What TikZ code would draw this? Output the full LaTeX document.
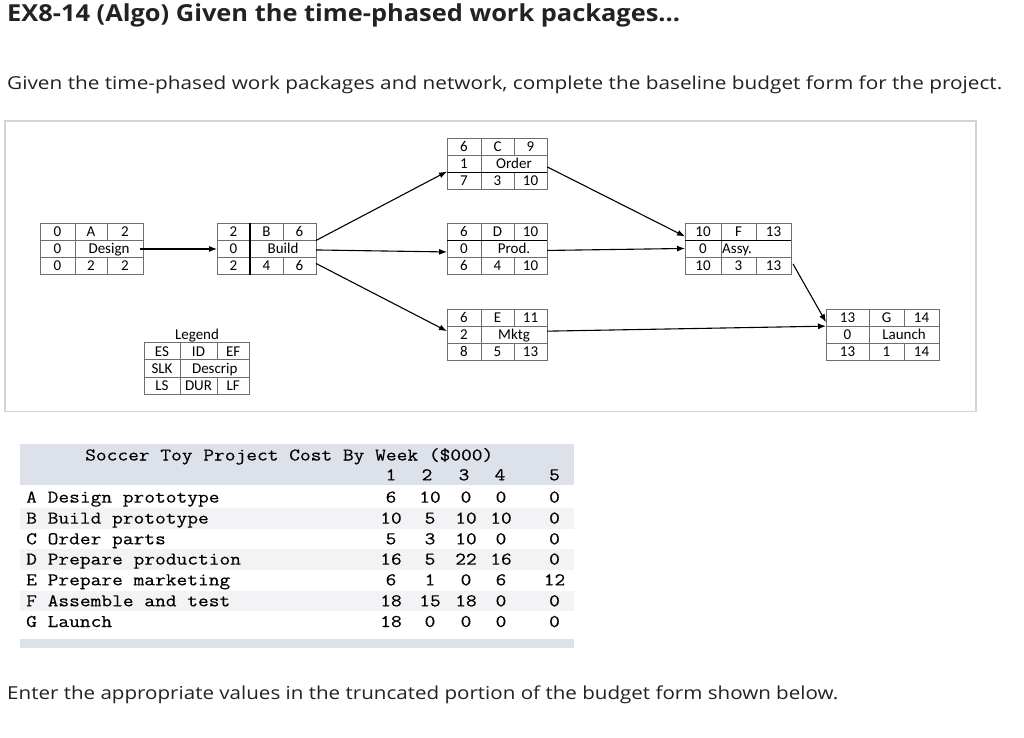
\documentclass[tikz,border=0pt]{standalone}
\usepackage{fontspec}
\usepackage{graphicx}
\setmainfont{Open Sans}
\newfontfamily\netfont{Carlito}
\newfontfamily\tabfont[FakeStretch=1.165,FakeBold=0.3]{Latin Modern Mono}
\usetikzlibrary{arrows.meta}

\definecolor{gridgray}{RGB}{110,110,110}
\definecolor{panelgray}{RGB}{212,212,212}
\definecolor{headband}{RGB}{221,225,234}
\definecolor{stripe}{RGB}{243,243,245}
\definecolor{inktext}{RGB}{34,34,34}

\tikzset{
  gridbox/.style={draw=gridgray, line width=0.9pt, inner sep=0pt, outer sep=0pt},
  gridline/.style={draw=gridgray, line width=0.9pt},
  heavyline/.style={draw=black, line width=1.5pt},
  celltext/.style={font=\netfont\fontsize{15}{15}\selectfont, inner sep=0pt, anchor=base, text=black},
  arr/.style={draw=black, line width=1.1pt, -{Latex[length=8pt,width=6pt]}},
  tabtext/.style={font=\tabfont\fontsize{17.9}{18}\selectfont, inner sep=0pt, text=black},
  titletext/.style={font=\bfseries\fontsize{23.4}{24}\selectfont, inner sep=0pt, text=inktext},
  bodytext/.style={font=\fontsize{17.9}{18}\selectfont, inner sep=0pt, text=inktext},
  panel/.style={draw=panelgray, line width=1.3pt},
}

% #1 name, #2 x0, #3 x1, #4 x2, #5 x3, #6 y0, #7 row height
\newcommand\actgrid[7]{%
  \node[gridbox, anchor=north west, minimum width={(#5-#2)*1pt}, minimum height={3*#7*1pt}] (#1) at (#2,#6) {};
  \draw[gridline] (#2,{#6+#7}) -- (#5,{#6+#7})
                  (#2,{#6+2*#7}) -- (#5,{#6+2*#7})
                  (#3,#6) -- (#3,{#6+3*#7})
                  (#4,#6) -- (#4,{#6+#7})
                  (#4,{#6+2*#7}) -- (#4,{#6+3*#7});
  \coordinate (#1-11) at ({(#2+#3)/2},{#6+0.5*#7+4.9});
  \coordinate (#1-12) at ({(#3+#4)/2},{#6+0.5*#7+4.9});
  \coordinate (#1-13) at ({(#4+#5)/2},{#6+0.5*#7+4.9});
  \coordinate (#1-21) at ({(#2+#3)/2},{#6+1.5*#7+4.9});
  \coordinate (#1-22) at ({(#3+#5)/2},{#6+1.5*#7+4.9});
  \coordinate (#1-31) at ({(#2+#3)/2},{#6+2.5*#7+4.9});
  \coordinate (#1-32) at ({(#3+#4)/2},{#6+2.5*#7+4.9});
  \coordinate (#1-33) at ({(#4+#5)/2},{#6+2.5*#7+4.9});
}
\newcommand\acttext[9]{%
  \node[celltext] (#1-es) at (#1-11) {#2};
  \node[celltext] (#1-id) at (#1-12) {#3};
  \node[celltext] (#1-ef) at (#1-13) {#4};
  \node[celltext] (#1-slk) at (#1-21) {#5};
  \node[celltext] (#1-ds) at (#1-22) {#6};
  \node[celltext] (#1-ls) at (#1-31) {#7};
  \node[celltext] (#1-dur) at (#1-32) {#8};
  \node[celltext] (#1-lf) at (#1-33) {#9};
}
% #1 key, #2 baseline, #3 label, #4-#8 weekly values
\newcommand\tabrow[8]{%
  \node[tabtext, anchor=base west] (#1-lbl) at (26,#2) {#3};
  \node[tabtext, anchor=base] (#1-w1) at (391,#2) {#4};
  \node[tabtext, anchor=base] (#1-w2) at (430,#2) {#5};
  \node[tabtext, anchor=base] (#1-w3) at (466,#2) {#6};
  \node[tabtext, anchor=base] (#1-w4) at (501,#2) {#7};
  \node[tabtext, anchor=base] (#1-w5) at (554.5,#2) {#8};
}

\begin{document}
\begin{tikzpicture}[x=1pt,y=-1pt]
\useasboundingbox (0,0) rectangle (1024,737);
\fill[white] (0,0) rectangle (1024,737);

% headings
\node[titletext, anchor=base west] (title) at (7,21.7) {\resizebox{673pt}{\height}{EX8-14 (Algo) Given the time-phased work packages...}};
\node[bodytext, anchor=base west] (intro) at (7,89.3) {\resizebox{995pt}{\height}{Given the time-phased work packages and network, complete the baseline budget form for the project.}};

% network panel
\draw[panel] (5,121) rectangle (976,411.5);

\actgrid{A}{40}{75}{107}{143}{223.3}{17.1}
\actgrid{B}{217}{250}{283}{316}{223.3}{17.1}
\actgrid{C}{447}{481}{514}{547}{138.3}{17}
\actgrid{D}{447}{481}{514}{547}{223.3}{17.1}
\actgrid{E}{447}{481}{514}{547}{309.3}{16.9}
\actgrid{F}{685}{721}{756}{791}{223.3}{17.1}
\actgrid{G}{826}{869}{904}{939}{309.3}{16.9}
\actgrid{L}{144}{180}{217}{249.5}{342.7}{17.2}

\draw[heavyline] (250,223.3) -- (250,274.6);
\draw[heavyline] (447,172.3) -- (547,172.3);
\draw[heavyline] (447,240.4) -- (547,240.4);
\draw[heavyline] (685,240.4) -- (791,240.4);

\acttext{A}{0}{A}{2}{0}{Design}{0}{2}{2}
\acttext{B}{2}{B}{6}{0}{Build}{2}{4}{6}
\acttext{C}{6}{C}{9}{1}{Order}{7}{3}{10}
\acttext{D}{6}{D}{10}{0}{Prod.}{6}{4}{10}
\acttext{E}{6}{E}{11}{2}{Mktg}{8}{5}{13}
\acttext{F}{10}{F}{13}{0}{}{10}{3}{13}
\node[celltext, anchor=base west] (F-assy) at (722,{223.3+1.5*17.1+4.9}) {Assy.};
\acttext{G}{13}{G}{14}{0}{Launch}{13}{1}{14}
\acttext{L}{ES}{ID}{EF}{SLK}{Descrip}{LS}{DUR}{LF}
\node[celltext] (legendtitle) at (197,339) {Legend};

% connectors
\draw[arr] ([xshift=-3pt]A.east) -- (B.west);
\draw[arr] ([yshift=8.5pt]B.east) -- ([yshift=-7.7pt]C.west);
\draw[arr] ([yshift=-1pt]B.east) -- ([yshift=-3pt]D.west);
\draw[arr] ([yshift=-14.5pt]B.east) -- ([yshift=3.5pt]E.west);
\draw[arr] ([yshift=-3pt]C.east) -- ([yshift=12.5pt]F.west);
\draw[arr] ([yshift=-1.5pt]D.east) -- ([yshift=0.5pt]F.west);
\draw[arr] ([xshift=2pt,yshift=-15pt]F.east) -- ([yshift=12.5pt]G.west);
\draw[arr] ([yshift=3.5pt]E.east) -- ([yshift=8.5pt]G.west);

% cost table
\fill[headband] (20,443.5) rectangle (574,485);
\fill[stripe] (20,507.8) rectangle (574,528.5);
\fill[stripe] (20,549.2) rectangle (574,569.9);
\fill[stripe] (20,590.6) rectangle (574,611.3);
\fill[headband] (20,639) rectangle (574,647.5);

\node[tabtext, anchor=base west] (tabhead) at (85,460.5) {Soccer Toy Project Cost By Week (\$000)};
\node[tabtext, anchor=base] (wk1) at (391,480.3) {1};
\node[tabtext, anchor=base] (wk2) at (427,480.3) {2};
\node[tabtext, anchor=base] (wk3) at (464,480.3) {3};
\node[tabtext, anchor=base] (wk4) at (500,480.3) {4};
\node[tabtext, anchor=base] (wk5) at (554.5,480.3) {5};

\tabrow{ra}{502.6}{A Design prototype}{6}{10}{0}{0}{0}
\tabrow{rb}{523.6}{B Build prototype}{10}{5}{10}{10}{0}
\tabrow{rc}{544.3}{C Order parts}{5}{3}{10}{0}{0}
\tabrow{rd}{564.6}{D Prepare production}{16}{5}{22}{16}{0}
\tabrow{re}{585.3}{E Prepare marketing}{6}{1}{0}{6}{12}
\tabrow{rf}{606.3}{F Assemble and test}{18}{15}{18}{0}{0}
\tabrow{rg}{627}{G Launch}{18}{0}{0}{0}{0}

\node[bodytext, anchor=base west] (outro) at (7,699.5) {\resizebox{831pt}{\height}{Enter the appropriate values in the truncated portion of the budget form shown below.}};
\end{tikzpicture}
\end{document}
